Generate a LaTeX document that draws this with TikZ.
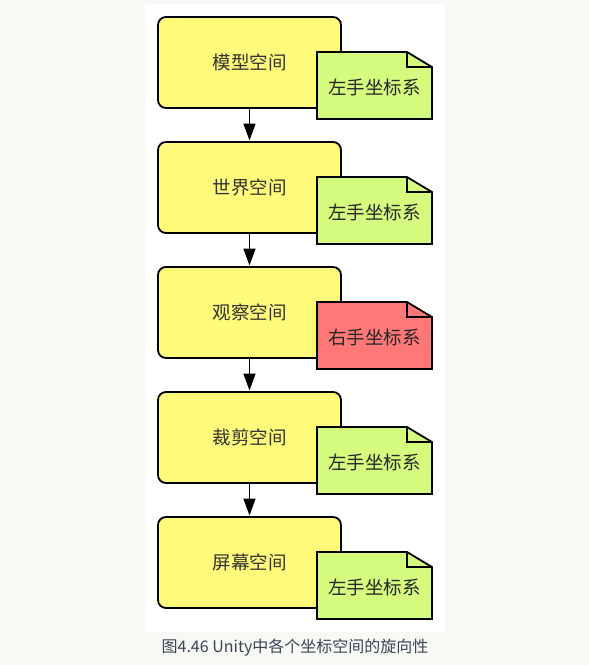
\documentclass[tikz,border=0pt]{standalone}
\usepackage{fontspec}
\setmainfont{Noto Sans CJK SC}
\usetikzlibrary{arrows.meta}
\definecolor{pagebg}{HTML}{F8F8F4}
\definecolor{boxyellow}{HTML}{FFFA7A}
\definecolor{notegreen}{HTML}{D4FA7E}
\definecolor{notered}{HTML}{FF7777}
\definecolor{captioncol}{HTML}{3A4754}
\tikzset{
  spacebox/.style={draw=black, fill=boxyellow, line width=1.8pt, rounded corners=8pt,
    minimum width=183pt, minimum height=91pt, inner sep=0pt, outer sep=0pt,
    text=black!80, font=\fontsize{18.5}{20}\selectfont},
  notetext/.style={inner sep=0pt, text=black!85, font=\fontsize{18.5}{20}\selectfont},
  flow/.style={line width=1.6pt, -{Triangle[length=17pt,width=12pt]}, shorten >=1.5pt},
  dogear/.pic={
    \draw[fill=#1, line width=1.8pt, line join=miter]
      (-57.5,-33.5) -- (32.5,-33.5) -- (57.5,-18.5) -- (57.5,33.5) -- (-57.5,33.5) -- cycle;
    \draw[line width=1.4pt] (32.5,-33.5) -- (32.5,-18.5) -- (57.5,-18.5);
  }
}
\begin{document}
\begin{tikzpicture}[x=1pt,y=-1pt]
\useasboundingbox (0,0) rectangle (589,665);
\fill[pagebg] (0,0) rectangle (589,665);
\fill[white] (145,4) rectangle (445,632);

\node[spacebox] (b1) at (249.5,62.5) {模型空间};
\pic at (374.5,85.5) {dogear=notegreen};
\node[notetext] (n1) at (374.5,87) {左手坐标系};

\node[spacebox] (b2) at (249.5,187.5) {世界空间};
\pic at (374.5,210.5) {dogear=notegreen};
\node[notetext] (n2) at (374.5,212) {左手坐标系};

\node[spacebox] (b3) at (249.5,312.5) {观察空间};
\pic at (374.5,335.5) {dogear=notered};
\node[notetext] (n3) at (374.5,337) {右手坐标系};

\node[spacebox] (b4) at (249.5,437.5) {裁剪空间};
\pic at (374.5,460.5) {dogear=notegreen};
\node[notetext] (n4) at (374.5,462) {左手坐标系};

\node[spacebox] (b5) at (249.5,562.5) {屏幕空间};
\pic at (374.5,585.5) {dogear=notegreen};
\node[notetext] (n5) at (374.5,587) {左手坐标系};

\draw[flow] (b1.south) -- (b2.north);
\draw[flow] (b2.south) -- (b3.north);
\draw[flow] (b3.south) -- (b4.north);
\draw[flow] (b4.south) -- (b5.north);

\node[text=captioncol, font=\fontsize{16}{18}\selectfont, inner sep=0pt] (cap) at (295,648)
  {图4.46 Unity中各个坐标空间的旋向性};
\end{tikzpicture}
\end{document}
